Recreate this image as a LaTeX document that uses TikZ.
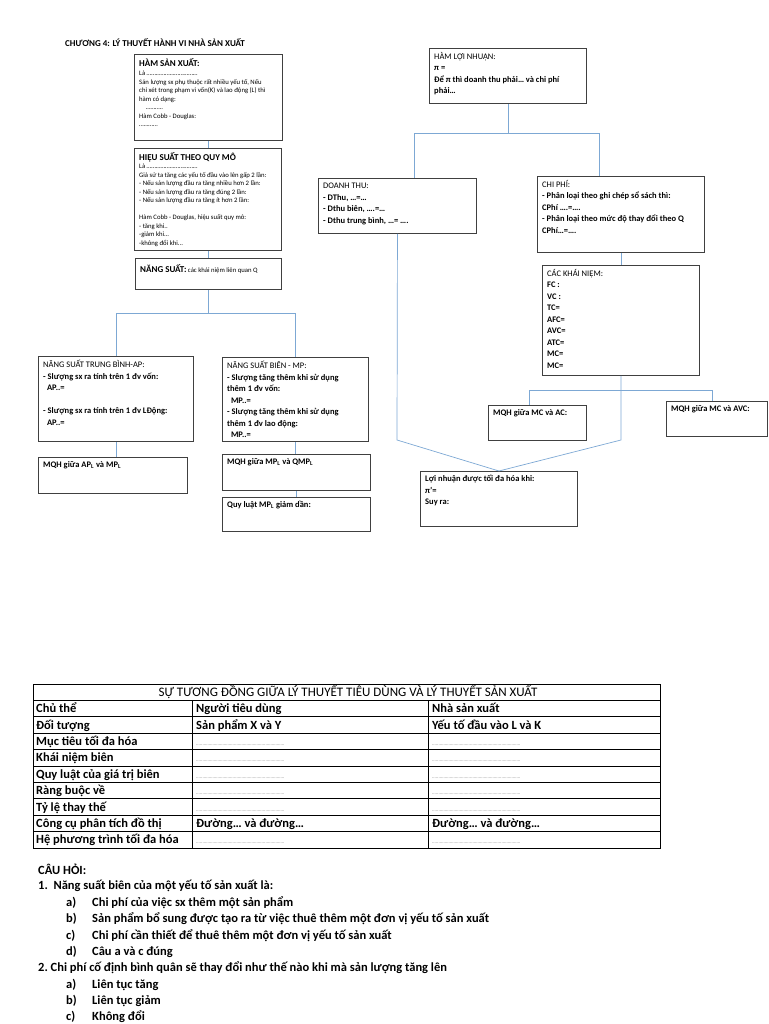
\documentclass[tikz,border=0pt]{standalone}
\usepackage{fontspec}
\setmainfont{Carlito}
\definecolor{linkblue}{RGB}{125,168,212}
\newcommand{\titletxt}{\fontsize{9}{10}\selectfont\bfseries}
\newcommand{\headtxt}{\fontsize{9}{10}\selectfont\bfseries}
\newcommand{\smalltxt}{\fontsize{6.7}{8.5}\selectfont}
\newcommand{\bodytxt}{\fontsize{8.5}{11.5}\selectfont\bfseries}
\newcommand{\celltxt}{\fontsize{12.5}{14}\selectfont\bfseries}
\newcommand{\qtxt}{\fontsize{12.5}{14}\selectfont\bfseries}
\newcommand{\blank}{\textcolor{black!55}{\fontsize{5}{5}\selectfont\mdseries ......................................................................}}
\begin{document}
\begin{tikzpicture}[x=1pt, y=-1pt,
  box/.style={draw=black!75, line width=0.9pt, anchor=north west, inner sep=0pt},
  inbox/.style={anchor=north west, align=left, inner xsep=5pt, inner ysep=4pt},
  link/.style={draw=linkblue, line width=0.7pt},
  tabline/.style={draw=black, line width=0.8pt},
  cell/.style={anchor=base west, inner sep=0pt, font=\celltxt},
  qline/.style={anchor=west, inner sep=0pt, font=\qtxt}
]
\useasboundingbox (0,0) rectangle (768,1024);

% ham san xuat
\node[anchor=west, inner sep=0pt, font=\titletxt] (chuong) at (65,43) {CHƯƠNG 4: LÝ THUYẾT HÀNH VI NHÀ SẢN XUẤT};
\node[box, minimum width=148pt, minimum height=86pt,
  label={[inbox, font=\smalltxt]north west:{{\headtxt HÀM SẢN XUẤT:}\\[1pt]Là ……………………………\\Sản lượng sx phụ thuộc rất nhiều yếu tố, Nếu\\chỉ xét trong phạm vi vốn(K) và lao động (L) thì\\hàm có dạng:\\\quad ………..\\Hàm Cobb - Douglas:\\…………}}] (hsx) at (134,54) {};
\node[box, minimum width=147pt, minimum height=102pt,
  label={[inbox, font=\smalltxt]north west:{{\headtxt HIỆU SUẤT THEO QUY MÔ}\\Là ……………………………\\Giả sử ta tăng các yếu tố đầu vào lên gấp 2 lần:\\- Nếu sản lượng đầu ra tăng nhiều hơn 2 lần:\\- Nếu sản lượng đầu ra tăng đúng 2 lần:\\- Nếu sản lượng đầu ra tăng ít hơn 2 lần:\\~\\Hàm Cobb - Douglas, hiệu suất quy mô:\\- tăng khi..\\-giảm khi...\\-không đổi khi...}}] (hieusuat) at (134,148) {};
\node[box, minimum width=146pt, minimum height=31pt,
  label={[inbox, inner ysep=6pt, font=\smalltxt]north west:{{\headtxt NĂNG SUẤT:} các khái niệm liên quan Q}}] (nangsuat) at (135,258) {};

% nang suat
\node[box, minimum width=155pt, minimum height=85pt,
  label={[inbox, font=\bodytxt]north west:{{\mdseries NĂNG SUẤT TRUNG BÌNH-AP:}\\- Slượng sx ra tính trên 1 đv vốn:\\\ \ AP..=\\~\\- Slượng sx ra tính trên 1 đv LĐộng:\\\ \ AP..=}}] (ap) at (38,356) {};
\node[box, minimum width=146pt, minimum height=84pt,
  label={[inbox, font=\bodytxt]north west:{{\mdseries NĂNG SUẤT BIÊN - MP:}\\- Slượng tăng thêm khi sử dụng\\thêm 1 đv vốn:\\\ \ MP..=\\- Slượng tăng thêm khi sử dụng\\thêm 1 đv lao động:\\\ \ MP..=}}] (mp) at (222,357) {};
\node[box, minimum width=149pt, minimum height=36pt,
  label={[inbox, font=\bodytxt]north west:{MQH giữa AP\textsubscript{L} và MP\textsubscript{L}}}] (mqhap) at (38,457) {};
\node[box, minimum width=148pt, minimum height=36pt,
  label={[inbox, font=\bodytxt]north west:{MQH giữa MP\textsubscript{L} và QMP\textsubscript{L}}}] (mqhmp) at (222,454) {};
\node[box, minimum width=148pt, minimum height=34pt,
  label={[inbox, font=\bodytxt]north west:{Quy luật MP\textsubscript{L} giảm dần:}}] (quyluat) at (222,497) {};

% loi nhuan
\node[box, minimum width=157pt, minimum height=55pt,
  label={[inbox, font=\bodytxt]north west:{{\mdseries HÀM LỢI NHUẬN:}\\π =\\Để π thì doanh thu phải… và chi phí\\phải…}}] (loinhuan) at (429,48) {};
\node[box, minimum width=158pt, minimum height=55pt,
  label={[inbox, inner ysep=5pt, font=\bodytxt]north west:{{\mdseries DOANH THU:}\\- DThu, …=…\\- Dthu biên, ….=…\\- Dthu trung bình, …= ….}}] (doanhthu) at (318,178) {};
\node[box, minimum width=167pt, minimum height=76pt,
  label={[inbox, font=\bodytxt]north west:{{\mdseries CHI PHÍ:}\\- Phân loại theo ghi chép sổ sách thì:\\CPhí ….=….\\- Phân loại theo mức độ thay đổi theo Q\\CPhí…=….}}] (chiphi) at (537,176) {};
\node[box, minimum width=157pt, minimum height=110pt,
  label={[inbox, font=\bodytxt]north west:{{\mdseries CÁC KHÁI NIỆM:}\\FC :\\VC :\\TC=\\AFC=\\AVC=\\ATC=\\MC=\\MC=}}] (khainiem) at (542,265) {};
\node[box, minimum width=98pt, minimum height=35pt,
  label={[inbox, font=\bodytxt]north west:{MQH giữa MC và AC:}}] (mcac) at (488,405) {};
\node[box, minimum width=101pt, minimum height=35pt,
  label={[inbox, font=\bodytxt]north west:{MQH giữa MC và AVC:}}] (mcavc) at (666,401) {};
\node[box, minimum width=157pt, minimum height=55pt,
  label={[inbox, font=\bodytxt]north west:{Lợi nhuận được tối đa hóa khi:\\π'=\\Suy ra:}}] (toida) at (420,471) {};

% connectors
\coordinate (forkL) at (207,313);
\coordinate (forkR) at (508,133);
\coordinate (forkMC) at (621,390);
\coordinate (joinL) at (397,440);
\coordinate (joinR) at (621,440);
\draw[link] (hsx.south) -- (hsx.south |- hieusuat.north);
\draw[link] (hieusuat.south) -- (hieusuat.south |- nangsuat.north);
\draw[link] (nangsuat.south) -- (nangsuat.south |- forkL);
\draw[link] (ap.north) |- (mp.north |- forkL) -- (mp.north);
\draw[link] (ap.south) -- (ap.south |- mqhap.north);
\draw[link] (mp.south) -- (mp.south |- mqhmp.north);
\draw[link] (mqhmp.south) -- (mqhmp.south |- quyluat.north);
\draw[link] (loinhuan.south) -- (loinhuan.south |- forkR);
\draw[link] ([xshift=17pt]doanhthu.north) |- ([xshift=-22pt]chiphi.north |- forkR) -- ([xshift=-22pt]chiphi.north);
\draw[link] (chiphi.south) -- (chiphi.south |- khainiem.north);
\draw[link] (doanhthu.south) -- (joinL) -- (toida.north) -- (joinR) -- (khainiem.south);
\draw[link] ([xshift=-8pt]mcac.north) |- ([xshift=-5pt]mcavc.north |- forkMC) -- ([xshift=-5pt]mcavc.north);

% bang so sanh
\draw[tabline] (33,684) rectangle (660,848);
\foreach \i in {1,...,9}
  \draw[tabline] (33,{684+16.4*\i}) -- (660,{684+16.4*\i});
\draw[tabline] (192,700.4) -- (192,848);
\draw[tabline] (428,700.4) -- (428,848);
\node[cell, anchor=base, font=\fontsize{13}{14}\selectfont] (tieude) at (348,696.5) {SỰ TƯƠNG ĐỒNG GIỮA LÝ THUYẾT TIÊU DÙNG VÀ LÝ THUYẾT SẢN XUẤT};
\foreach \lbl/\cons/\prod [count=\i] in {
  Chủ thể/Người tiêu dùng/Nhà sản xuất,
  Đối tượng/Sản phẩm X và Y/Yếu tố đầu vào L và K,
  Mục tiêu tối đa hóa/\blank/\blank,
  Khái niệm biên/\blank/\blank,
  Quy luật của giá trị biên/\blank/\blank,
  Ràng buộc về/\blank/\blank,
  Tỷ lệ thay thế/\blank/\blank,
  Công cụ phân tích đồ thị/Đường… và đường…/Đường… và đường…,
  Hệ phương trình tối đa hóa/\blank/\blank}
{
  \node[cell] (lbl\i) at (36,{684+16.4*\i+12.3}) {\lbl};
  \node[cell] (cons\i) at (196,{684+16.4*\i+12.3}) {\cons};
  \node[cell] (prod\i) at (432,{684+16.4*\i+12.3}) {\prod};
}

% cau hoi
\node[qline] (cauhoi) at (38,869) {CÂU HỎI:};
\node[qline] (q1) at (38,886) {1.\ \ Năng suất biên của một yếu tố sản xuất là:};
\node[qline] (q1a) at (66,903) {\makebox[26pt][l]{a)}Chi phí của việc sx thêm một sản phẩm};
\node[qline] (q1b) at (66,919) {\makebox[26pt][l]{b)}Sản phẩm bổ sung được tạo ra từ việc thuê thêm một đơn vị yếu tố sản xuất};
\node[qline] (q1c) at (66,936) {\makebox[26pt][l]{c)}Chi phí cần thiết để thuê thêm một đơn vị yếu tố sản xuất};
\node[qline] (q1d) at (66,952) {\makebox[26pt][l]{d)}Câu a và c đúng};
\node[qline] (q2) at (38,968) {2.\ Chi phí cố định bình quân sẽ thay đổi như thế nào khi mà sản lượng tăng lên};
\node[qline] (q2a) at (66,985) {\makebox[26pt][l]{a)}Liên tục tăng};
\node[qline] (q2b) at (66,1001) {\makebox[26pt][l]{b)}Liên tục giảm};
\node[qline] (q2c) at (66,1017) {\makebox[26pt][l]{c)}Không đổi};
\end{tikzpicture}
\end{document}
